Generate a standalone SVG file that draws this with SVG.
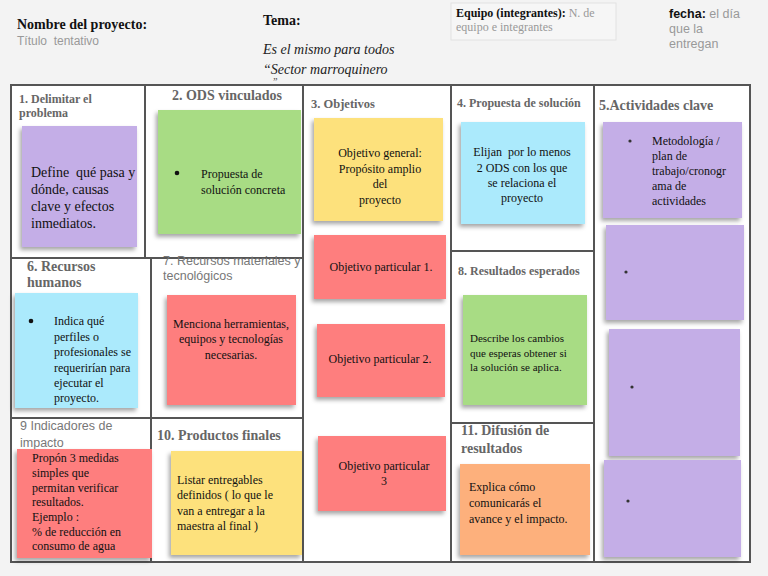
<svg xmlns="http://www.w3.org/2000/svg" width="768" height="576" viewBox="0 0 768 576">
<defs>
<filter id="sh" x="-10%" y="-10%" width="125%" height="125%">
<feDropShadow dx="-2" dy="3" stdDeviation="2" flood-color="#000" flood-opacity="0.35"/>
</filter>
</defs>
<style>
.hd{font-family:"Liberation Serif",serif;font-weight:bold;font-size:14px;fill:#111}
.gs{font-family:"Liberation Sans",sans-serif;font-size:12px;fill:#999}
.gr{font-family:"Liberation Serif",serif;font-size:12px;fill:#999}
.it{font-family:"Liberation Serif",serif;font-style:italic;font-size:14px;fill:#222}
.t{font-family:"Liberation Serif",serif;font-weight:bold;fill:#666;font-size:14px}
.ts{font-family:"Liberation Sans",sans-serif;fill:#777;font-size:12.5px}
.b{font-family:"Liberation Serif",serif;fill:#111;font-size:12px}
.c{text-anchor:middle}
.ln{stroke:#555;stroke-width:2;fill:none}
.n{filter:url(#sh)}
.pu{fill:#c4aee7}.gn{fill:#a8dc84}.ye{fill:#fde17c}.bl{fill:#abeafc}.rd{fill:#fe7e7e}.or{fill:#fdb07c}
</style>
<rect width="768" height="576" fill="#f3f3f3"/>
<g id="header">
<text class="hd" x="17" y="29">Nombre del proyecto:</text>
<text class="gs" x="17" y="45" xml:space="preserve">Título  tentativo</text>
<text class="hd" x="263" y="25">Tema:</text>
<text class="it" x="263" y="54">Es el mismo para todos</text>
<text class="it" x="263" y="74">“Sector marroquinero</text>
<rect x="451" y="3" width="165" height="37" fill="#f6f6f6" stroke="#e2e2e2"/>
<text x="456" y="17" style="font-family:'Liberation Serif',serif;font-size:12px"><tspan font-weight="bold" fill="#111">Equipo (integrantes):</tspan><tspan fill="#999"> N. de</tspan></text>
<text class="gr" x="456" y="31">equipo e integrantes</text>
<text x="669" y="18" style="font-family:'Liberation Sans',sans-serif;font-size:12.5px"><tspan font-weight="bold" fill="#111">fecha:</tspan><tspan fill="#999"> el día</tspan></text>
<text class="gs" x="669" y="33" style="font-size:12.5px">que la</text>
<text class="gs" x="669" y="48" style="font-size:12.5px">entregan</text>
</g>
<rect x="11" y="85" width="739" height="477" fill="#fff"/>
<g id="connectors">
<rect class="ln" x="11" y="85" width="739" height="477"/>
<line class="ln" x1="145" y1="85" x2="145" y2="258"/>
<line class="ln" x1="151" y1="258" x2="151" y2="562"/>
<line class="ln" x1="303" y1="85" x2="303" y2="562"/>
<line class="ln" x1="451" y1="85" x2="451" y2="562"/>
<line class="ln" x1="594" y1="85" x2="594" y2="562"/>
<line class="ln" x1="11" y1="258" x2="303" y2="258"/>
<line class="ln" x1="11" y1="418" x2="303" y2="418"/>
<line class="ln" x1="451" y1="251" x2="594" y2="251"/>
<line class="ln" x1="451" y1="423" x2="594" y2="423"/>
</g>
<text x="272" y="85" style="font-family:'Liberation Serif',serif;font-style:italic;font-size:10px;fill:#444">”</text>
<g id="n1">
<text class="t" x="19" y="103" style="font-size:12px">1. Delimitar el</text>
<text class="t" x="19" y="117" style="font-size:12px">problema</text>
<rect class="n pu" x="22" y="126" width="115" height="121"/>
<text class="b" x="31" y="177" style="font-size:14px" xml:space="preserve">Define  qué pasa y</text>
<text class="b" x="31" y="194" style="font-size:14px">dónde, causas</text>
<text class="b" x="31" y="211" style="font-size:14px">clave y efectos</text>
<text class="b" x="31" y="228" style="font-size:14px">inmediatos.</text>
</g>
<g id="n2">
<text class="t c" x="227" y="100">2. ODS vinculados</text>
<rect class="n gn" x="158" y="110" width="143" height="124"/>
<circle cx="177" cy="173" r="2.3" fill="#111"/>
<text class="b" x="201" y="178">Propuesta de</text>
<text class="b" x="201" y="194">solución concreta</text>
</g>
<g id="n3">
<text class="t" x="311" y="108" style="font-size:12.5px">3. Objetivos</text>
<rect class="n ye" x="314" y="118" width="129" height="103"/>
<text class="b c" x="380" y="157">Objetivo general:</text>
<text class="b c" x="380" y="173">Propósito amplio</text>
<text class="b c" x="380" y="188">del</text>
<text class="b c" x="380" y="204">proyecto</text>
<rect class="n rd" x="314" y="235" width="132" height="64"/>
<text class="b c" x="381" y="271">Objetivo particular 1.</text>
<rect class="n rd" x="317" y="324" width="128" height="73"/>
<text class="b c" x="380" y="363">Objetivo particular 2.</text>
<rect class="n rd" x="318" y="436" width="128" height="75"/>
<text class="b c" x="384" y="470">Objetivo particular</text>
<text class="b c" x="384" y="485">3</text>
</g>
<g id="n4">
<text class="t" x="457" y="107" style="font-size:12px">4. Propuesta de solución</text>
<rect class="n bl" x="461" y="122" width="124" height="102"/>
<text class="b c" x="522" y="156" xml:space="preserve">Elijan  por lo menos</text>
<text class="b c" x="522" y="172">2 ODS con los que</text>
<text class="b c" x="522" y="187">se relaciona el</text>
<text class="b c" x="522" y="202">proyecto</text>
</g>
<g id="n5">
<text class="t" x="599" y="110">5.Actividades clave</text>
<rect class="n pu" x="603" y="122" width="139" height="96"/>
<circle cx="630" cy="141" r="1.6" fill="#333"/>
<text class="b" x="652" y="145">Metodología /</text>
<text class="b" x="652" y="160">plan de</text>
<text class="b" x="652" y="175">trabajo/cronogr</text>
<text class="b" x="652" y="190">ama de</text>
<text class="b" x="652" y="205">actividades</text>
<rect class="n pu" x="606" y="225" width="138" height="95"/>
<circle cx="626" cy="272" r="1.6" fill="#333"/>
<rect class="n pu" x="609" y="329" width="131" height="127"/>
<circle cx="632" cy="387" r="1.6" fill="#333"/>
<rect class="n pu" x="604" y="460" width="137" height="97"/>
<circle cx="628" cy="501" r="1.6" fill="#333"/>
</g>
<g id="n6">
<text class="t" x="27" y="271">6. Recursos</text>
<text class="t" x="27" y="287">humanos</text>
<rect class="n bl" x="15" y="293" width="123" height="115"/>
<circle cx="31" cy="321" r="2.3" fill="#111"/>
<text class="b" x="54" y="325">Indica qué</text>
<text class="b" x="54" y="341">perfiles o</text>
<text class="b" x="54" y="356">profesionales se</text>
<text class="b" x="54" y="372">requerirían para</text>
<text class="b" x="54" y="387">ejecutar el</text>
<text class="b" x="54" y="402">proyecto.</text>
</g>
<g id="n7">
<text class="ts" x="163" y="265">7. Recursos materiales y</text>
<text class="ts" x="163" y="280">tecnológicos</text>
<rect class="n rd" x="167" y="295" width="129" height="110"/>
<text class="b c" x="231" y="328">Menciona herramientas,</text>
<text class="b c" x="231" y="343">equipos y tecnologías</text>
<text class="b c" x="231" y="359">necesarias.</text>
</g>
<g id="n8">
<text class="t" x="458" y="275" style="font-size:12px">8. Resultados esperados</text>
<rect class="n gn" x="463" y="295" width="124" height="110"/>
<text class="b" x="470" y="342" style="font-size:11px">Describe los cambios</text>
<text class="b" x="470" y="357" style="font-size:11px">que esperas obtener si</text>
<text class="b" x="470" y="371" style="font-size:11px">la solución se aplica.</text>
</g>
<g id="n9">
<text class="ts" x="20" y="430">9 Indicadores de</text>
<text class="ts" x="20" y="447">impacto</text>
<rect class="n rd" x="17" y="449" width="135" height="109"/>
<text class="b" x="32" y="462">Propón 3 medidas</text>
<text class="b" x="32" y="477">simples que</text>
<text class="b" x="32" y="492">permitan verificar</text>
<text class="b" x="32" y="506">resultados.</text>
<text class="b" x="32" y="521">Ejemplo :</text>
<text class="b" x="32" y="536">% de reducción en</text>
<text class="b" x="32" y="550">consumo de agua</text>
</g>
<g id="n10">
<text class="t" x="157" y="440">10. Productos finales</text>
<rect class="n ye" x="171" y="451" width="131" height="104"/>
<text class="b" x="177" y="484">Listar entregables</text>
<text class="b" x="177" y="499">definidos ( lo que le</text>
<text class="b" x="177" y="515">van a entregar a la</text>
<text class="b" x="177" y="530">maestra al final )</text>
</g>
<g id="n11">
<text class="t" x="461" y="435">11. Difusión de</text>
<text class="t" x="461" y="453">resultados</text>
<rect class="n or" x="460" y="464" width="130" height="91"/>
<text class="b" x="469" y="491">Explica cómo</text>
<text class="b" x="469" y="507">comunicarás el</text>
<text class="b" x="469" y="523">avance y el impacto.</text>
</g>
</svg>
